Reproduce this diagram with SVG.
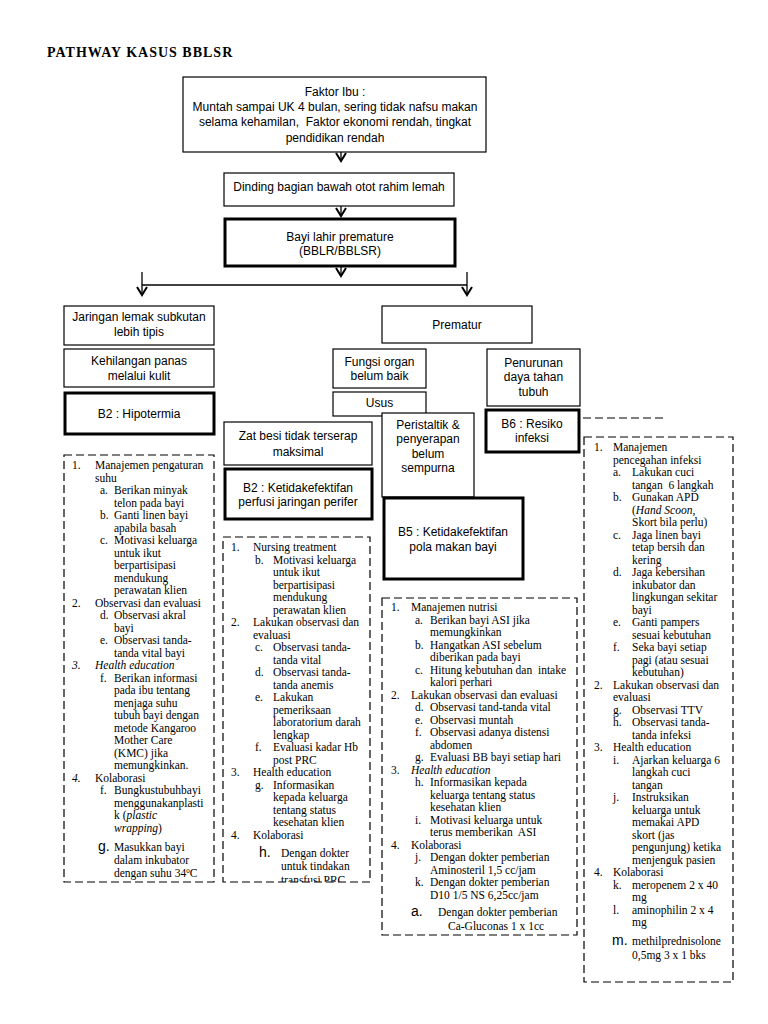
<svg xmlns="http://www.w3.org/2000/svg" width="768" height="1024" viewBox="0 0 768 1024">
<style>
.s{font-family:"Liberation Sans",Arial,sans-serif;font-size:12px;text-anchor:middle;fill:#000;white-space:pre}
.t{font-family:"Liberation Serif","Times New Roman",serif;font-size:11.5px;fill:#000;white-space:pre}
.b{font-family:"Liberation Sans",Arial,sans-serif;font-size:14px}
.i{font-style:italic}
.n{fill:#fff;stroke:#000;stroke-width:1.2}
.k{fill:#fff;stroke:#000;stroke-width:3}
.d{fill:none;stroke:#000;stroke-width:1.2;stroke-dasharray:8 4}
.c{fill:none;stroke:#000;stroke-width:1.3}
.title{font-family:"Liberation Serif","Times New Roman",serif;font-size:14px;font-weight:bold;letter-spacing:1px;fill:#000}
</style>
<defs>
<marker id="v" viewBox="-10 -7 12 14" markerWidth="12" markerHeight="14" refX="0" refY="0" orient="auto" markerUnits="userSpaceOnUse">
<path d="M-8,-5 L0,0 L-8,5" fill="none" stroke="#000" stroke-width="2"/>
</marker>
<clipPath id="clipML"><rect x="222" y="537" width="150" height="345"/></clipPath>
</defs>
<rect width="768" height="1024" fill="#fff"/>
<text class="title" x="47" y="57">PATHWAY KASUS BBLSR</text>

<g id="connectors">
<path class="c" d="M341,152 V161" marker-end="url(#v)"/>
<path class="c" d="M341,206 V216" marker-end="url(#v)"/>
<path class="c" d="M341,266 V276" marker-end="url(#v)"/>
<path class="c" d="M142,285 H467"/>
<path class="c" d="M142,272 V295" marker-end="url(#v)"/>
<path class="c" d="M467,272 V295" marker-end="url(#v)"/>
<path class="d" d="M583,418 H663"/>
</g>

<g id="faktor-ibu">
<rect class="n" x="183" y="77" width="303" height="75"/>
<text class="s" x="335" y="96">Faktor Ibu :</text>
<text class="s" x="335" y="111">Muntah sampai UK 4 bulan, sering tidak nafsu makan</text>
<text class="s" x="335" y="126">selama kehamilan,  Faktor ekonomi rendah, tingkat</text>
<text class="s" x="335" y="142">pendidikan rendah</text>
</g>

<g id="dinding">
<rect class="n" x="224" y="173" width="230" height="33"/>
<text class="s" x="339" y="191">Dinding bagian bawah otot rahim lemah</text>
</g>

<g id="bayi-lahir">
<rect class="k" x="225" y="219" width="230" height="47"/>
<text class="s" x="340" y="241">Bayi lahir premature</text>
<text class="s" x="340" y="255">(BBLR/BBLSR)</text>
</g>

<g id="jaringan">
<rect class="n" x="64" y="306" width="150" height="39"/>
<text class="s" x="139" y="321">Jaringan lemak subkutan</text>
<text class="s" x="139" y="336">lebih tipis</text>
</g>

<g id="kehilangan">
<rect class="n" x="64" y="349" width="150" height="38"/>
<text class="s" x="139" y="365">Kehilangan panas</text>
<text class="s" x="139" y="380">melalui kulit</text>
</g>

<g id="hipotermia">
<rect class="k" x="65" y="393" width="149" height="41"/>
<text class="s" x="139" y="418">B2 : Hipotermia</text>
</g>

<g id="prematur">
<rect class="n" x="382" y="306" width="150" height="37"/>
<text class="s" x="457" y="329">Prematur</text>
</g>

<g id="fungsi-organ">
<rect class="n" x="333" y="349" width="93" height="39"/>
<text class="s" x="379.5" y="366">Fungsi organ</text>
<text class="s" x="379.5" y="380">belum baik</text>
</g>

<g id="usus">
<rect class="n" x="333" y="392" width="93" height="24"/>
<text class="s" x="379.5" y="407">Usus</text>
</g>

<g id="penurunan">
<rect class="n" x="487" y="349" width="93" height="57"/>
<text class="s" x="533.5" y="367">Penurunan</text>
<text class="s" x="533.5" y="381">daya tahan</text>
<text class="s" x="533.5" y="396">tubuh</text>
</g>

<g id="resiko-infeksi">
<rect class="k" x="486" y="410" width="93" height="42"/>
<text class="s" x="532" y="428">B6 : Resiko</text>
<text class="s" x="532" y="442">infeksi</text>
</g>

<g id="zat-besi">
<rect class="n" x="224" y="422" width="148" height="43"/>
<text class="s" x="298" y="440">Zat besi tidak terserap</text>
<text class="s" x="298" y="456">maksimal</text>
</g>

<g id="perfusi">
<rect class="k" x="225" y="469" width="147" height="50"/>
<text class="s" x="298" y="492">B2 : Ketidakefektifan</text>
<text class="s" x="298" y="506">perfusi jaringan perifer</text>
</g>

<g id="peristaltik">
<rect class="n" x="382" y="413" width="92" height="84"/>
<text class="s" x="428" y="429">Peristaltik &amp;</text>
<text class="s" x="428" y="443">penyerapan</text>
<text class="s" x="428" y="458">belum</text>
<text class="s" x="428" y="472">sempurna</text>
</g>

<g id="pola-makan">
<rect class="k" x="384" y="498" width="139" height="81"/>
<text class="s" x="453" y="536">B5 : Ketidakefektifan</text>
<text class="s" x="453" y="551">pola makan bayi</text>
</g>

<g id="intervensi-hipotermia">
<rect class="d" x="64" y="455" width="150" height="427"/>
<text class="t" y="469"><tspan x="72">1.</tspan><tspan x="95">Manajemen pengaturan</tspan></text>
<text class="t" x="95" y="481.5">suhu</text>
<text class="t" y="494"><tspan x="100">a.</tspan><tspan x="114">Berikan minyak</tspan></text>
<text class="t" x="114" y="506.5">telon pada bayi</text>
<text class="t" y="519"><tspan x="100">b.</tspan><tspan x="114">Ganti linen bayi</tspan></text>
<text class="t" x="114" y="531.5">apabila basah</text>
<text class="t" y="544"><tspan x="100">c.</tspan><tspan x="114">Motivasi keluarga</tspan></text>
<text class="t" x="114" y="556.5">untuk ikut</text>
<text class="t" x="114" y="569">berpartisipasi</text>
<text class="t" x="114" y="581.5">mendukung</text>
<text class="t" x="114" y="594">perawatan klien</text>
<text class="t" y="606.5"><tspan x="72">2.</tspan><tspan x="95">Observasi dan evaluasi</tspan></text>
<text class="t" y="619"><tspan x="100">d.</tspan><tspan x="114">Observasi akral</tspan></text>
<text class="t" x="114" y="631.5">bayi</text>
<text class="t" y="644"><tspan x="100">e.</tspan><tspan x="114">Observasi tanda-</tspan></text>
<text class="t" x="114" y="656.5">tanda vital bayi</text>
<text class="t i" y="669"><tspan x="72">3.</tspan><tspan x="95">Health education</tspan></text>
<text class="t" y="681.5"><tspan x="100">f.</tspan><tspan x="114">Berikan informasi</tspan></text>
<text class="t" x="114" y="694">pada ibu tentang</text>
<text class="t" x="114" y="706.5">menjaga suhu</text>
<text class="t" x="114" y="719">tubuh bayi dengan</text>
<text class="t" x="114" y="731.5">metode Kangaroo</text>
<text class="t" x="114" y="744">Mother Care</text>
<text class="t" x="114" y="756.5">(KMC) jika</text>
<text class="t" x="114" y="769">memungkinkan.</text>
<text class="t" y="781.5"><tspan x="72" class="i">4.</tspan><tspan x="95">Kolaborasi</tspan></text>
<text class="t" y="794"><tspan x="100">f.</tspan><tspan x="114">Bungkustubuhbayi</tspan></text>
<text class="t" x="114" y="806.5">menggunakanplasti</text>
<text class="t" x="114" y="819">k (<tspan class="i">plastic</tspan></text>
<text class="t" x="114" y="831.5"><tspan class="i">wrapping</tspan>)</text>
<text class="t" y="851"><tspan x="98" class="b">g.</tspan><tspan x="114">Masukkan bayi</tspan></text>
<text class="t" x="114" y="864">dalam inkubator</text>
<text class="t" x="114" y="877">dengan suhu 34<tspan dy="-4" font-size="7">0</tspan><tspan dy="4">C</tspan></text>
</g>

<g id="intervensi-perfusi">
<rect class="d" x="223" y="537" width="147" height="345"/>
<g clip-path="url(#clipML)">
<text class="t" y="551"><tspan x="231">1.</tspan><tspan x="253">Nursing treatment</tspan></text>
<text class="t" y="563.5"><tspan x="255">b.</tspan><tspan x="273">Motivasi keluarga</tspan></text>
<text class="t" x="273" y="576">untuk ikut</text>
<text class="t" x="273" y="588.5">berpartisipasi</text>
<text class="t" x="273" y="601">mendukung</text>
<text class="t" x="273" y="613.5">perawatan klien</text>
<text class="t" y="626"><tspan x="231">2.</tspan><tspan x="253">Lakukan observasi dan</tspan></text>
<text class="t" x="253" y="638.5">evaluasi</text>
<text class="t" y="651"><tspan x="255">c.</tspan><tspan x="273">Observasi tanda-</tspan></text>
<text class="t" x="273" y="663.5">tanda vital</text>
<text class="t" y="676"><tspan x="255">d.</tspan><tspan x="273">Observasi tanda-</tspan></text>
<text class="t" x="273" y="688.5">tanda anemis</text>
<text class="t" y="701"><tspan x="255">e.</tspan><tspan x="273">Lakukan</tspan></text>
<text class="t" x="273" y="713.5">pemeriksaan</text>
<text class="t" x="273" y="726">laboratorium darah</text>
<text class="t" x="273" y="738.5">lengkap</text>
<text class="t" y="751"><tspan x="255">f.</tspan><tspan x="273">Evaluasi kadar Hb</tspan></text>
<text class="t" x="273" y="763.5">post PRC</text>
<text class="t" y="776"><tspan x="231">3.</tspan><tspan x="253">Health education</tspan></text>
<text class="t" y="788.5"><tspan x="255">g.</tspan><tspan x="273">Informasikan</tspan></text>
<text class="t" x="273" y="801">kepada keluarga</text>
<text class="t" x="273" y="813.5">tentang status</text>
<text class="t" x="273" y="826">kesehatan klien</text>
<text class="t" y="838.5"><tspan x="231">4.</tspan><tspan x="253">Kolaborasi</tspan></text>
<text class="t" y="857"><tspan x="259" class="b">h.</tspan><tspan x="281">Dengan dokter</tspan></text>
<text class="t" x="281" y="870">untuk tindakan</text>
<text class="t" x="281" y="884">transfusi PRC</text>
</g>
</g>

<g id="intervensi-pola-makan">
<rect class="d" x="382" y="598" width="195" height="337"/>
<text class="t" y="611"><tspan x="391">1.</tspan><tspan x="411">Manajemen nutrisi</tspan></text>
<text class="t" y="623.5"><tspan x="415">a.</tspan><tspan x="430">Berikan bayi ASI jika</tspan></text>
<text class="t" x="430" y="636">memungkinkan</text>
<text class="t" y="648.5"><tspan x="415">b.</tspan><tspan x="430">Hangatkan ASI sebelum</tspan></text>
<text class="t" x="430" y="661">diberikan pada bayi</text>
<text class="t" y="673.5"><tspan x="415">c.</tspan><tspan x="430">Hitung kebutuhan dan  intake</tspan></text>
<text class="t" x="430" y="686">kalori perhari</text>
<text class="t" y="698.5"><tspan x="391">2.</tspan><tspan x="411">Lakukan observasi dan evaluasi</tspan></text>
<text class="t" y="711"><tspan x="415">d.</tspan><tspan x="430">Observasi tand-tanda vital</tspan></text>
<text class="t" y="723.5"><tspan x="415">e.</tspan><tspan x="430">Observasi muntah</tspan></text>
<text class="t" y="736"><tspan x="415">f.</tspan><tspan x="430">Observasi adanya distensi</tspan></text>
<text class="t" x="430" y="748.5">abdomen</text>
<text class="t" y="761"><tspan x="415">g.</tspan><tspan x="430">Evaluasi BB bayi setiap hari</tspan></text>
<text class="t" y="773.5"><tspan x="391">3.</tspan><tspan x="411" class="i">Health education</tspan></text>
<text class="t" y="786"><tspan x="415">h.</tspan><tspan x="430">Informasikan kepada</tspan></text>
<text class="t" x="430" y="798.5">keluarga tentang status</text>
<text class="t" x="430" y="811">kesehatan klien</text>
<text class="t" y="823.5"><tspan x="415">i.</tspan><tspan x="430">Motivasi keluarga untuk</tspan></text>
<text class="t" x="430" y="836">terus memberikan  ASI</text>
<text class="t" y="848.5"><tspan x="391">4.</tspan><tspan x="411">Kolaborasi</tspan></text>
<text class="t" y="861"><tspan x="415">j.</tspan><tspan x="430">Dengan dokter pemberian</tspan></text>
<text class="t" x="430" y="873.5">Aminosteril 1,5 cc/jam</text>
<text class="t" y="886"><tspan x="415">k.</tspan><tspan x="430">Dengan dokter pemberian</tspan></text>
<text class="t" x="430" y="898.5">D10 1/5 NS 6,25cc/jam</text>
<text class="t" y="916"><tspan x="411" class="b">a.</tspan><tspan x="438">Dengan dokter pemberian</tspan></text>
<text class="t" x="448" y="930">Ca-Gluconas 1 x 1cc</text>
</g>

<g id="intervensi-infeksi">
<rect class="d" x="584" y="437" width="149" height="545"/>
<text class="t" y="451"><tspan x="594">1.</tspan><tspan x="613">Manajemen</tspan></text>
<text class="t" x="613" y="463.5">pencegahan infeksi</text>
<text class="t" y="476"><tspan x="613">a.</tspan><tspan x="632">Lakukan cuci</tspan></text>
<text class="t" x="632" y="488.5">tangan  6 langkah</text>
<text class="t" y="501"><tspan x="613">b.</tspan><tspan x="632">Gunakan APD</tspan></text>
<text class="t" x="632" y="513.5">(<tspan class="i">Hand Scoon</tspan>,</text>
<text class="t" x="632" y="526">Skort bila perlu)</text>
<text class="t" y="538.5"><tspan x="613">c.</tspan><tspan x="632">Jaga linen bayi</tspan></text>
<text class="t" x="632" y="551">tetap bersih dan</text>
<text class="t" x="632" y="563.5">kering</text>
<text class="t" y="576"><tspan x="613">d.</tspan><tspan x="632">Jaga kebersihan</tspan></text>
<text class="t" x="632" y="588.5">inkubator dan</text>
<text class="t" x="632" y="601">lingkungan sekitar</text>
<text class="t" x="632" y="613.5">bayi</text>
<text class="t" y="626"><tspan x="613">e.</tspan><tspan x="632">Ganti pampers</tspan></text>
<text class="t" x="632" y="638.5">sesuai kebutuhan</text>
<text class="t" y="651"><tspan x="613">f.</tspan><tspan x="632">Seka bayi setiap</tspan></text>
<text class="t" x="632" y="663.5">pagi (atau sesuai</text>
<text class="t" x="632" y="676">kebutuhan)</text>
<text class="t" y="688.5"><tspan x="594">2.</tspan><tspan x="613">Lakukan observasi dan</tspan></text>
<text class="t" x="613" y="701">evaluasi</text>
<text class="t" y="713.5"><tspan x="613">g.</tspan><tspan x="632">Observasi TTV</tspan></text>
<text class="t" y="726"><tspan x="613">h.</tspan><tspan x="632">Observasi tanda-</tspan></text>
<text class="t" x="632" y="738.5">tanda infeksi</text>
<text class="t" y="751"><tspan x="594">3.</tspan><tspan x="613">Health education</tspan></text>
<text class="t" y="763.5"><tspan x="613">i.</tspan><tspan x="632">Ajarkan keluarga 6</tspan></text>
<text class="t" x="632" y="776">langkah cuci</text>
<text class="t" x="632" y="788.5">tangan</text>
<text class="t" y="801"><tspan x="613">j.</tspan><tspan x="632">Instruksikan</tspan></text>
<text class="t" x="632" y="813.5">keluarga untuk</text>
<text class="t" x="632" y="826">memakai APD</text>
<text class="t" x="632" y="838.5">skort (jas</text>
<text class="t" x="632" y="851">pengunjung) ketika</text>
<text class="t" x="632" y="863.5">menjenguk pasien</text>
<text class="t" y="876"><tspan x="594">4.</tspan><tspan x="613">Kolaborasi</tspan></text>
<text class="t" y="888.5"><tspan x="613">k.</tspan><tspan x="632">meropenem 2 x 40</tspan></text>
<text class="t" x="632" y="901">mg</text>
<text class="t" y="913.5"><tspan x="613">l.</tspan><tspan x="632">aminophilin 2 x 4</tspan></text>
<text class="t" x="632" y="926">mg</text>
<text class="t" y="945"><tspan x="612" class="b">m.</tspan><tspan x="632">methilprednisolone</tspan></text>
<text class="t" x="632" y="959">0,5mg 3 x 1 bks</text>
</g>
</svg>
